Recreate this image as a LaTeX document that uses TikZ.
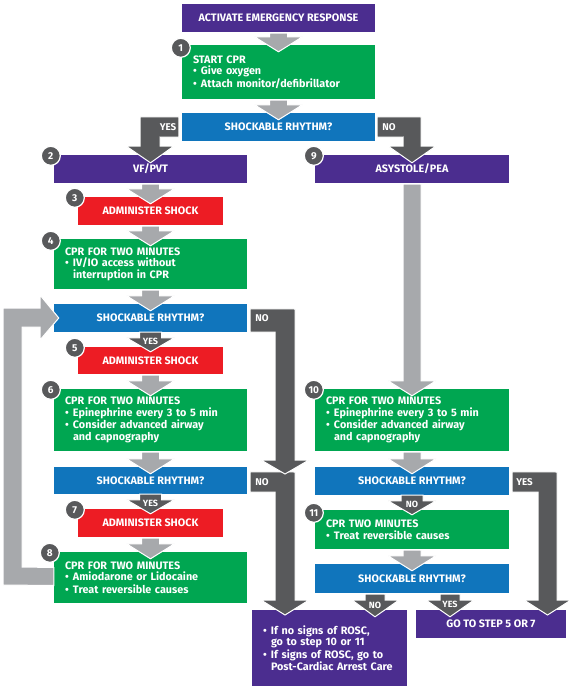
\documentclass[tikz,border=0pt]{standalone}
\usepackage{fontspec}
\setmainfont{Fira Sans}
\usetikzlibrary{calc}
\definecolor{purp}{RGB}{75,45,143}
\definecolor{grn}{RGB}{0,166,81}
\definecolor{blu}{RGB}{16,117,188}
\definecolor{rd}{RGB}{237,28,36}
\definecolor{lgray}{RGB}{167,169,172}
\definecolor{dgray}{RGB}{88,89,91}
\newcommand\bitem[1]{\mbox{\makebox[8pt][l]{•}#1}}
\newcommand\bcont[1]{\mbox{\hspace*{8pt}#1}}
\newcommand\dnarrow[2]{\filldraw[garrow] ($(#1.south)+(-9,1)$) -- ($(#2.north)+(-9,-8)$) -- ($(#2.north)+(-24,-8)$) -- ($(#2.north)+(0,7)$) -- ($(#2.north)+(24,-8)$) -- ($(#2.north)+(9,-8)$) -- ($(#1.south)+(9,1)$) -- cycle;}
\newcommand\smarrow[2]{\filldraw[darrow] ($(#1.south)+(-11,0)$) -- ($(#2.north)+(-11,-9)$) -- ($(#2.north)+(-24,-9)$) -- ($(#2.north)+(0,5)$) -- ($(#2.north)+(24,-9)$) -- ($(#2.north)+(11,-9)$) -- ($(#1.south)+(11,0)$) -- cycle;}
\begin{document}
\begin{tikzpicture}[x=1pt,y=-1pt,
  font=\bfseries\fontsize{10.8}{11.6}\selectfont,
  box/.style={rectangle, text=white, inner sep=0pt, anchor=center},
  wide/.style={minimum width=193pt},
  narrow/.style={minimum width=145pt},
  lbox/.style={text width=171pt, align=left},
  garrow/.style={fill=lgray, draw=white, line width=1pt},
  darrow/.style={fill=dgray, draw=white, line width=1pt},
  lbl/.style={text=white, inner sep=0pt, font=\bfseries\fontsize{9.8}{10}\selectfont},
  slbl/.style={text=white, inner sep=0pt, font=\bfseries\fontsize{9}{9}\selectfont},
  badge/.style={circle, fill=dgray, draw=white, line width=1.2pt, minimum size=19pt, inner sep=0pt, text=white, font=\bfseries\fontsize{10}{10}\selectfont}]
\useasboundingbox (0,0) rectangle (568,688);

% boxes
\node[box, fill=purp, wide, minimum height=28pt] (act) at (278.5,18) {ACTIVATE EMERGENCY RESPONSE};
\node[box, fill=grn, wide, lbox, minimum height=54pt] (b1) at (278.5,72) {START CPR\\ \bitem{Give oxygen}\\[1pt] \bitem{Attach monitor/defibrillator}};
\node[box, fill=blu, wide, minimum height=28pt] (s1) at (278.5,127) {SHOCKABLE RHYTHM?};
\node[box, fill=purp, wide, minimum height=28pt] (b2) at (150.5,169) {VF/PVT};
\node[box, fill=purp, minimum width=194pt, minimum height=28pt] (b9) at (412,169) {ASYSTOLE/PEA};
\node[box, fill=rd, narrow, minimum height=28pt] (b3) at (150.5,211) {ADMINISTER SHOCK};
\node[box, fill=grn, wide, lbox, minimum height=50pt] (b4) at (150.5,264) {CPR FOR TWO MINUTES\\ \bitem{IV/IO access without}\\ \bcont{interruption in CPR}};
\node[box, fill=blu, wide, minimum height=28pt] (s2) at (150.5,318) {SHOCKABLE RHYTHM?};
\node[box, fill=rd, narrow, minimum height=27pt] (b5) at (150.5,360.5) {ADMINISTER SHOCK};
\node[box, fill=grn, wide, lbox, minimum height=62pt] (b6) at (150.5,420) {CPR FOR TWO MINUTES\\ \bitem{Epinephrine every 3 to 5 min}\\[1pt] \bitem{Consider advanced airway}\\ \bcont{and capnography}};
\node[box, fill=grn, minimum width=194pt, text width=172pt, align=left, minimum height=62pt] (b10) at (412,420) {CPR FOR TWO MINUTES\\ \bitem{Epinephrine every 3 to 5 min}\\[1pt] \bitem{Consider advanced airway}\\ \bcont{and capnography}};
\node[box, fill=blu, wide, minimum height=27pt] (s3) at (150.5,480.5) {SHOCKABLE RHYTHM?};
\node[box, fill=blu, minimum width=194pt, minimum height=28pt] (s4) at (412,481) {SHOCKABLE RHYTHM?};
\node[box, fill=rd, narrow, minimum height=28pt] (b7) at (150.5,523) {ADMINISTER SHOCK};
\node[box, fill=grn, minimum width=194pt, text width=172pt, align=left, minimum height=39pt] (b11) at (412,529.5) {CPR TWO MINUTES\\ \bitem{Treat reversible causes}};
\node[box, fill=grn, wide, lbox, minimum height=51pt] (b8) at (150.5,577.5) {CPR FOR TWO MINUTES\\ \bitem{Amiodarone or Lidocaine}\\[1pt] \bitem{Treat reversible causes}};
\node[box, fill=blu, minimum width=194pt, minimum height=29pt] (s5) at (412,578.5) {SHOCKABLE RHYTHM?};
\node[box, fill=purp, minimum width=155pt, text width=133pt, align=left, minimum height=76pt] (f1) at (329.5,648) {\bitem{If no signs of ROSC,}\\ \bcont{go to step 10 or 11}\\[1pt] \bitem{If signs of ROSC, go to}\\ \bcont{Post-Cardiac Arrest Care}};
\node[box, fill=purp, minimum width=150pt, minimum height=28pt] (f2) at (491,624) {GO TO STEP 5 OR 7};

% light gray arrows
\dnarrow{act}{b1}
\dnarrow{b1}{s1}
\dnarrow{b2}{b3}
\dnarrow{b3}{b4}
\dnarrow{b4}{s2}
\dnarrow{b5}{b6}
\dnarrow{b6}{s3}
\dnarrow{b7}{b8}
\dnarrow{b9}{b10}
\dnarrow{b10}{s4}
\dnarrow{b11}{s5}

% loop back arrow from b8 to s2
\filldraw[garrow] ($(b8.west)+(0,-10)$) -- (22,567) -- (22,327) -- (40,327) -- (40,340) -- ($(s2.west)+(5,0)$) -- (40,295) -- (40,308) -- (3,308) -- (3,585) -- ($(b8.west)+(0,8)$) -- cycle;

% dark decision arrows
\filldraw[darrow] ($(s1.north west)+(-3,4)$) -- (140,117) -- (140,146) -- (126,146) -- ($(b2.north)+(0,8)$) -- (174,146) -- (160,146) -- (160,137) -- ($(s1.south west)+(-3,-4)$) -- cycle;
\filldraw[darrow] ($(s1.north east)+(2,4)$) -- (421,117) -- (421,146) -- (436,146) -- ($(b9.north)+(0,8)$) -- (388,146) -- (403,146) -- (403,137) -- ($(s1.south east)+(2,-4)$) -- cycle;
\filldraw[darrow] ($(s3.north east)+(3,5)$) -- (295,472) -- (295,600) -- (309,600) -- (285,615) -- (261,600) -- (275,600) -- (275,492) -- ($(s3.south east)+(3,-2)$) -- cycle;
\filldraw[darrow] ($(s2.north east)+(3,5)$) -- (295,309) -- (295,460) -- (309,460) -- (285,474) -- (261,460) -- (275,460) -- (275,332) -- ($(s2.south east)+(3,0)$) -- cycle;
\filldraw[darrow] ($(s4.north east)+(3,5)$) -- (557,472) -- (557,600) -- (571,600) -- (547.5,615) -- (524,600) -- (538,600) -- (538,492) -- ($(s4.south east)+(3,-3)$) -- cycle;
\smarrow{s2}{b5}
\smarrow{s3}{b7}
\smarrow{s4}{b11}
\filldraw[darrow] ($(s5.south)+(-47,1)$) -- (365,600) -- (352,600) -- ($(f1.north)+(45.5,7)$) -- (399,600) -- (385,600) -- ($(s5.south)+(-27,1)$) -- cycle;
\filldraw[darrow] ($(s5.south)+(28,1)$) -- (440,600) -- (426,600) -- ($(f2.north)+(-41,7)$) -- (474,600) -- (460,600) -- ($(s5.south)+(48,1)$) -- cycle;

% labels
\node[lbl] (lyes1) at (168,127) {YES};
\node[lbl] (lno1) at (389,127) {NO};
\node[lbl] (lno2) at (262,318) {NO};
\node[lbl] (lno3) at (262,482) {NO};
\node[lbl] (lyes4) at (524.5,482) {YES};
\node[slbl] (lyes2) at (150.5,341) {YES};
\node[slbl] (lyes3) at (150.5,503) {YES};
\node[slbl] (lno4) at (412,504) {NO};
\node[slbl] (lno5) at (375,605) {NO};
\node[slbl] (lyes5) at (450,604) {YES};

% badges
\node[badge] (n1) at ($(b1.north west)+(-1,3)$) {1};
\node[badge] (n2) at ($(b2.north west)+(-3,1)$) {2};
\node[badge] (n3) at ($(b3.north west)+(-3,1)$) {3};
\node[badge] (n4) at ($(b4.north west)+(-3,2)$) {4};
\node[badge] (n5) at ($(b5.north west)+(-3,1)$) {5};
\node[badge] (n6) at ($(b6.north west)+(-3,1)$) {6};
\node[badge] (n7) at ($(b7.north west)+(-3,1)$) {7};
\node[badge] (n8) at ($(b8.north west)+(-4,1)$) {8};
\node[badge] (n9) at ($(b9.north west)+(-1,1)$) {9};
\node[badge] (n10) at ($(b10.north west)+(-1,1)$) {10};
\node[badge] (n11) at ($(b11.north west)+(-1,3)$) {11};
\end{tikzpicture}
\end{document}
